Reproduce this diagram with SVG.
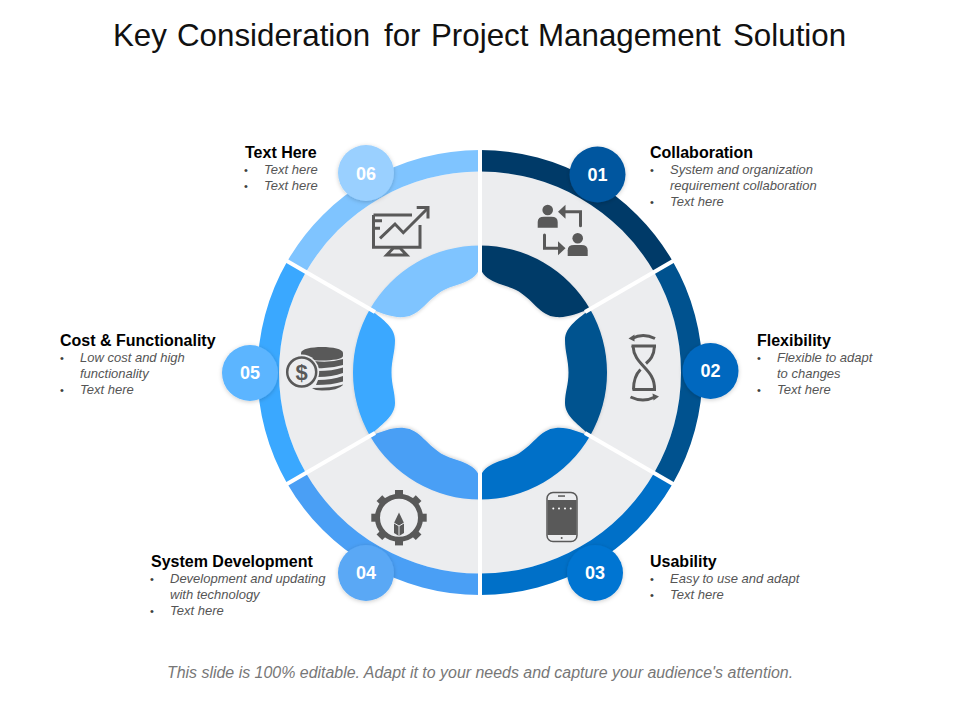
<svg xmlns="http://www.w3.org/2000/svg" width="960" height="720" viewBox="0 0 960 720">
<style>
text{font-family:"Liberation Sans",Arial,sans-serif}
.title{font-size:31.300px;fill:#111}
.h{font-size:16px;font-weight:bold;fill:#000}
.b{font-size:13px;font-style:italic;fill:#555}
.d{font-size:11px;fill:#404040}
.n{font-size:18px;font-weight:bold;fill:#fff;text-anchor:middle}
.foot{font-size:15.950px;font-style:italic;fill:#777;text-anchor:middle}
.s{fill:#ecedef}
.i{fill:#595959}
.l{fill:none;stroke:#595959;stroke-width:3}
.bd{filter:url(#sh)}
.bl{filter:url(#sh2)}
.sep{stroke:#fff;stroke-width:4;fill:none}
</style>
<defs>
<filter id="sh" x="-30%" y="-30%" width="160%" height="160%"><feDropShadow dx="0" dy="1" stdDeviation="2" flood-color="#000" flood-opacity=".2"/></filter>
<filter id="sh2" x="-10%" y="-10%" width="120%" height="130%"><feDropShadow dx="0" dy="1.500" stdDeviation="1.500" flood-color="#000" flood-opacity=".14"/></filter>
<path id="blob" d="M480 245.500A127 127 0 0 1 590 309C578 313 568 318 556 317C540 316 532 298 516 290C502 283 480 282 480 263Z"/>
<path id="blob2" d="M590 309A127 127 0 0 1 590 436C580 425 565 417 565 403C565 392 568.500 385 568.500 372.500C568.500 360 565 352 565 340C565 326 580 318 590 309Z"/>
</defs>
<text class="title" y="46"><tspan x="113">Key</tspan> <tspan x="177">Consideration</tspan> <tspan x="384">for</tspan> <tspan x="431">Project</tspan> <tspan x="538">Management</tspan> <tspan x="733">Solution</tspan></text>
<g id="node-06">
<path class="s" d="M480 246.500V171.500A201 201 0 0 0 305.930 272L370.900 309.500A126 126 0 0 1 480 246.500Z"/>
<path fill="#7fc4ff" d="M480 150A222.500 222.500 0 0 0 287.300 261.250L305.930 272A201 201 0 0 1 480 171.500Z"/>
<use class="bl" href="#blob" fill="#7fc4ff" transform="matrix(-1 0 0 1 960 0)"/>
</g>
<g id="node-01">
<path class="s" d="M480 246.500V171.500A201 201 0 0 1 654.070 272L589.100 309.500A126 126 0 0 0 480 246.500Z"/>
<path fill="#003a68" d="M480 150A222.500 222.500 0 0 1 672.700 261.250L654.070 272A201 201 0 0 0 480 171.500Z"/>
<use class="bl" href="#blob" fill="#003a68"/>
</g>
<g id="node-02">
<path class="s" d="M589.100 309.500L654.070 272A201 201 0 0 1 654.070 473L589.100 435.500A126 126 0 0 0 589.100 309.500Z"/>
<path fill="#00528f" d="M672.700 261.250A222.500 222.500 0 0 1 672.700 483.750L654.070 473A201 201 0 0 0 654.070 272Z"/>
<use class="bl" href="#blob2" fill="#00528f"/>
</g>
<g id="node-03">
<path class="s" d="M589.100 435.500L654.070 473A201 201 0 0 1 480 573.500V498.500A126 126 0 0 0 589.100 435.500Z"/>
<path fill="#0070c8" d="M480 595A222.500 222.500 0 0 0 672.700 483.750L654.070 473A201 201 0 0 1 480 573.500Z"/>
<use class="bl" href="#blob" fill="#0070c8" transform="matrix(1 0 0 -1 0 745)"/>
</g>
<g id="node-04">
<path class="s" d="M370.900 435.500L305.930 473A201 201 0 0 0 480 573.500V498.500A126 126 0 0 1 370.900 435.500Z"/>
<path fill="#4a9ff5" d="M480 595A222.500 222.500 0 0 1 287.300 483.750L305.930 473A201 201 0 0 0 480 573.500Z"/>
<use class="bl" href="#blob" fill="#4a9ff5" transform="matrix(-1 0 0 -1 960 745)"/>
</g>
<g id="node-05">
<path class="s" d="M370.900 309.500L305.930 272A201 201 0 0 0 305.930 473L370.900 435.500A126 126 0 0 1 370.900 309.500Z"/>
<path fill="#3aa8ff" d="M287.300 261.250A222.500 222.500 0 0 0 287.300 483.750L305.930 473A201 201 0 0 1 305.930 272Z"/>
<use class="bl" href="#blob2" fill="#3aa8ff" transform="matrix(-1 0 0 1 960 0)"/>
</g>
<g id="connectors" class="sep">
<path d="M480 140V605"/>
<path d="M585 311.900L680 257"/>
<path d="M585 433.100L680 488"/>
<path d="M375 311.900L280 257"/>
<path d="M375 433.100L280 488"/>
</g>
<g id="labels-06">
<circle class="bd" cx="366" cy="173" r="28" fill="#9ad0ff"/>
<text class="n" x="366" y="179.500">06</text>
<text class="h" x="245" y="158">Text Here</text>
<text class="d" x="244" y="174">•</text><text class="b" x="264" y="174">Text here</text>
<text class="d" x="244" y="190">•</text><text class="b" x="264" y="190">Text here</text>
<g id="icon-06">
<path class="l" stroke-width="3.500" d="M373.500 215H412M420 225V247.300H373.500V215"/>
<path fill="none" stroke="#ecedef" stroke-width="8" d="M405 230L426 209"/>
<path class="l" stroke-width="3.500" d="M373.500 220.700H382M373.500 228.300H380"/>
<path class="l" stroke-width="3.500" d="M380 238.300L395 224L403.300 232.700L427 209"/>
<path class="l" stroke-width="3.500" d="M416.700 207.500H428V218.500"/>
<path class="l" d="M386.700 255H406.700L400 248H393.400Z"/>
</g>
</g>
<g id="labels-01">
<circle class="bd" cx="597.500" cy="174.500" r="28" fill="#00569f"/>
<text class="n" x="597.500" y="181">01</text>
<text class="h" x="650" y="158">Collaboration</text>
<text class="d" x="650" y="174">•</text><text class="b" x="670" y="174">System and organization</text>
<text class="b" x="670" y="190">requirement collaboration</text>
<text class="d" x="650" y="206">•</text><text class="b" x="670" y="206">Text here</text>
<g id="icon-01">
<circle class="i" cx="547.700" cy="210" r="5.300"/>
<path class="i" d="M537.700 227.700V222Q537.700 216.700 544 216.700H551.400Q557.700 216.700 557.700 222V227.700Z"/>
<circle class="i" cx="577.700" cy="238.300" r="5.300"/>
<path class="i" d="M567.700 256V250.300Q567.700 245 574 245H581.400Q587.700 245 587.700 250.300V256Z"/>
<path class="l" stroke-width="4" stroke-linecap="round" d="M580.500 225.700V211.700H564"/>
<path class="i" d="M558 211.700L565.500 204.700V218.700Z"/>
<path class="l" stroke-width="4" stroke-linecap="round" d="M544.500 235V248.300H559"/>
<path class="i" d="M565.500 248.300L558 241.300V255.300Z"/>
</g>
</g>
<g id="labels-02">
<circle class="bd" cx="710.500" cy="371" r="28" fill="#0068bf"/>
<text class="n" x="710.500" y="377">02</text>
<text class="h" x="757" y="346">Flexibility</text>
<text class="d" x="757" y="362">•</text><text class="b" x="777" y="362">Flexible to adapt</text>
<text class="b" x="777" y="378">to changes</text>
<text class="d" x="757" y="394">•</text><text class="b" x="777" y="394">Text here</text>
<g id="icon-02">
<path class="l" stroke-width="2" d="M632 338.500Q643 332.500 655 338.500"/>
<path class="i" d="M628.500 338.500L634.500 334.500V341.500Z"/>
<path class="l" stroke-width="2" d="M630.500 397Q643 403 655 397"/>
<path class="i" d="M659 396.500L652.500 393.500L653.500 400.500Z"/>
<path class="l" stroke-width="4" d="M631.500 346H656M632.500 389.500H656"/>
<path class="l" stroke-width="4" d="M633 346C634 366 655 368 654.500 389.500"/>
<path class="l" stroke-width="4" d="M654.500 346C654 356 650 360 646 363.500M640.500 369.500C636 374 633.500 380 633.500 389.500"/>
</g>
</g>
<g id="labels-03">
<circle class="bd" cx="595" cy="573" r="28" fill="#0075d2"/>
<text class="n" x="595" y="579">03</text>
<text class="h" x="650" y="567">Usability</text>
<text class="d" x="650" y="583">•</text><text class="b" x="670" y="583">Easy to use and adapt</text>
<text class="d" x="650" y="599">•</text><text class="b" x="670" y="599">Text here</text>
<g id="icon-03">
<rect x="547" y="492.500" width="30" height="49" rx="6" fill="none" stroke="#595959" stroke-width="1.500"/>
<path class="i" d="M547.500 500H576.500V535H547.500Z"/>
<rect class="i" x="558" y="495.300" width="7" height="1.500"/>
<circle class="i" cx="561.700" cy="538" r="1"/>
<g fill="#fff"><circle cx="553.300" cy="508.500" r="1"/><circle cx="559" cy="508.500" r="1"/><circle cx="565" cy="508.500" r="1"/><circle cx="570.700" cy="508.500" r="1"/></g>
</g>
</g>
<g id="labels-04">
<circle class="bd" cx="366" cy="573" r="28" fill="#5aa8f5"/>
<text class="n" x="366" y="579">04</text>
<text class="h" x="151" y="567">System Development</text>
<text class="d" x="150" y="583">•</text><text class="b" x="170" y="583">Development and updating</text>
<text class="b" x="170" y="599">with technology</text>
<text class="d" x="150" y="615">•</text><text class="b" x="170" y="615">Text here</text>
<g id="icon-04">
<circle cx="399" cy="517.700" r="21.500" fill="none" stroke="#595959" stroke-width="5"/>
<g class="i">
<rect x="395" y="490" width="8" height="8"/>
<rect x="395" y="490" width="8" height="8" transform="rotate(45 399 517.700)"/>
<rect x="395" y="490" width="8" height="8" transform="rotate(90 399 517.700)"/>
<rect x="395" y="490" width="8" height="8" transform="rotate(135 399 517.700)"/>
<rect x="395" y="490" width="8" height="8" transform="rotate(180 399 517.700)"/>
<rect x="395" y="490" width="8" height="8" transform="rotate(225 399 517.700)"/>
<rect x="395" y="490" width="8" height="8" transform="rotate(270 399 517.700)"/>
<rect x="395" y="490" width="8" height="8" transform="rotate(315 399 517.700)"/>
<path d="M399 512.500L404 523V533L399 536L394 533V523Z"/>
</g>
<path fill="none" stroke="#ecedef" stroke-width="1" d="M394 523L399 526L404 523M399 526V536"/>
</g>
</g>
<g id="labels-05">
<circle class="bd" cx="250" cy="373" r="28" fill="#5cb5ff"/>
<text class="n" x="250" y="379">05</text>
<text class="h" x="60" y="346">Cost &amp; Functionality</text>
<text class="d" x="60" y="362">•</text><text class="b" x="80" y="362">Low cost and high</text>
<text class="b" x="80" y="378">functionality</text>
<text class="d" x="60" y="394">•</text><text class="b" x="80" y="394">Text here</text>
<g id="icon-05">
<path class="i" d="M301 353C301 345 343 345 343 353V356C343 362 301 362 301 356Z"/>
<path class="i" d="M314 361Q330 363 343 359V365Q330 369 316 368Z"/>
<path class="i" d="M318 371Q332 371 343 367.500V373Q332 377 318 377Z"/>
<path class="i" d="M318 380Q332 380 343 376V381.500Q332 385 316 385Z"/>
<path class="i" d="M312 388Q332 388 343 384.500V385Q338 390.500 322 390.500Q315 390.500 312 388Z"/>
<circle cx="301.700" cy="372" r="17.500" fill="#ecedef"/>
<circle cx="301.700" cy="372" r="14.500" fill="none" stroke="#595959" stroke-width="2.500"/>
<text x="301.700" y="380" text-anchor="middle" font-size="22" font-weight="bold" fill="#595959">$</text>
</g>
</g>
<text class="foot" x="480" y="678">This slide is 100% editable. Adapt it to your needs and capture your audience's attention.</text>
</svg>
